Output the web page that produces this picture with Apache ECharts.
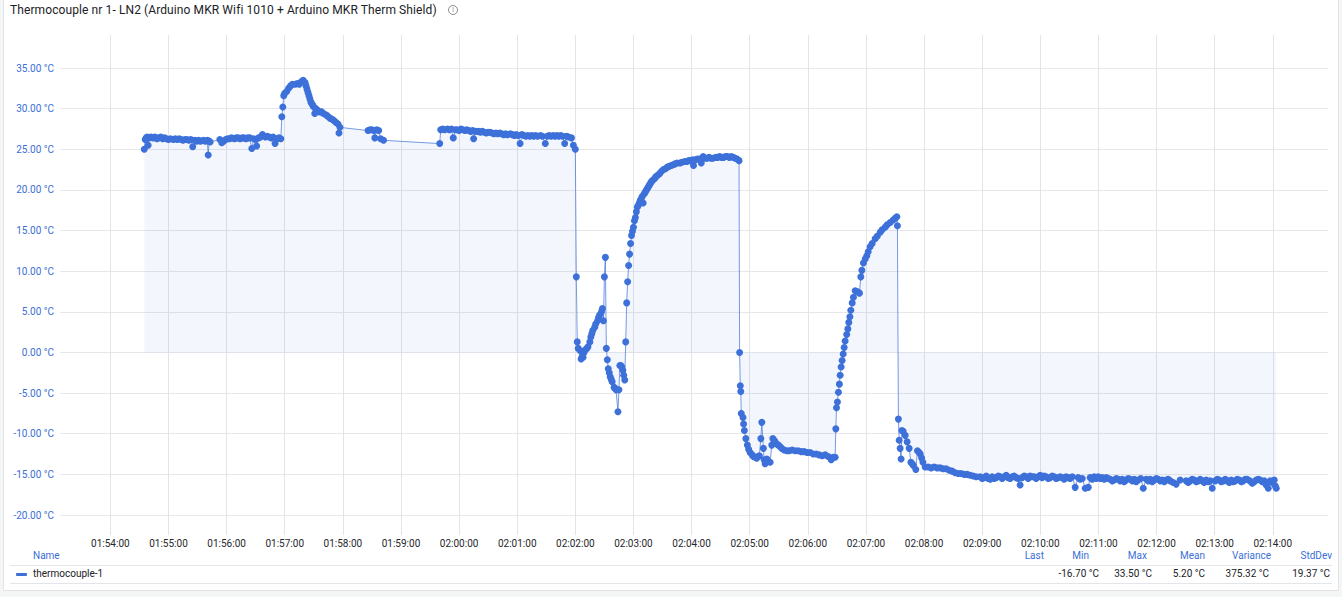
<!DOCTYPE html>
<html>
<head>
<meta charset="utf-8">
<script src="https://cdn.jsdelivr.net/npm/echarts@6/dist/echarts.min.js"></script>
<style>
  html, body { margin: 0; padding: 0; width: 1342px; height: 597px; overflow: hidden; background: #f4f5f5; font-family: Roboto, "Noto Sans", sans-serif; }
  #panel { position: absolute; left: 3px; top: -2px; width: 1334px; height: 591px; background: #fff; border: 1px solid #e2e3e5; }
  #title { position: absolute; left: 10px; top: 3px; font-size: 12px; letter-spacing: 0.1px; color: #202226; white-space: nowrap; }
  #info { position: absolute; left: 448px; top: 5px; width: 8px; height: 8px; border: 1px solid #8a8d93; border-radius: 50%; font-size: 7px; line-height: 8px; text-align: center; color: #8a8d93; }
  #chart { position: absolute; left: 0; top: 0; width: 1342px; height: 597px; }
  .lg { position: absolute; font-size: 10px; white-space: nowrap; line-height: 12px; }
  .hd { color: #3a6fd6; }
  .val { color: #202226; }
  .rule { position: absolute; left: 10px; width: 1322px; height: 1px; background: #e4e5e8; }
  #swatch { position: absolute; left: 16px; top: 573px; width: 11px; height: 3px; border-radius: 1px; background: #3d71d9; }
</style>
</head>
<body>
<div id="panel"></div>
<div id="title">Thermocouple nr 1- LN2 (Arduino MKR Wifi 1010 + Arduino MKR Therm Shield)</div>
<div id="info">i</div>
<div id="chart"></div>
<div class="lg hd" style="left:33px;top:550px;">Name</div>
<div class="lg hd" style="right:298px;top:550px;">Last</div>
<div class="lg hd" style="right:253px;top:550px;">Min</div>
<div class="lg hd" style="right:195px;top:550px;">Max</div>
<div class="lg hd" style="right:137px;top:550px;">Mean</div>
<div class="lg hd" style="right:71px;top:550px;">Variance</div>
<div class="lg hd" style="right:10px;top:550px;">StdDev</div>
<div class="rule" style="top:565px;"></div>
<div id="swatch"></div>
<div class="lg val" style="left:33px;top:568px;">thermocouple-1</div>
<div class="lg val" id="sMin" style="right:243px;top:568px;"></div>
<div class="lg val" id="sMax" style="right:190px;top:568px;"></div>
<div class="lg val" id="sMean" style="right:137px;top:568px;"></div>
<div class="lg val" id="sVar" style="right:73px;top:568px;"></div>
<div class="lg val" id="sStd" style="right:12px;top:568px;"></div>
<div class="rule" style="top:583px;"></div>
<script>
// ---- data (seconds after 01:54:00, temperature in °C) ----
const startClock = [1, 54, 0];
const secs = [
35,36,37,38,39,40,42,44,46,48,50,52,54,56,58,60,62,65,67,69,71,73,75,77,79,81,83,85,87,89,91,93,96,98,100,101,102,103,
113,115,117,119,121,123,125,128,130,132,134,136,138,140,142,144,146,148,150,151,153,155,157,160,162,164,166,168,170,172,174,176,
177,178,179,180,182,184,186,188,191,193,195,197,199,201,202,203,204,205,206,207,208,209,210,211,212,214,216,218,220,223,225,227,229,231,233,235,236,237,
266,268,270,272,273,275,277,279,282,
340,341,343,345,348,350,352,354,356,358,360,362,364,366,368,370,372,374,375,377,380,382,384,386,388,390,392,394,396,398,400,402,404,406,408,410,413,415,417,419,421,423,425,427,429,431,433,435,437,439,441,444,446,449,451,453,455,457,459,461,463,465,467,469,471,473,476,478,480,
481,482,483,485,486,487,488,489,490,492,493,495,496,497,498,500,501,503,504,505,507,508,509,510,511,512,513,514,515,516,517,518,520,521,522,524,525,526,527,528,529,530,531,532,533,534,535,536,537,538,539,540,541,542,543,544,545,546,547,548,549,550,551,552,553,554,555,556,557,558,559,560,562,563,565,567,569,571,573,575,577,579,581,583,585,588,590,593,595,597,599,601,602,604,606,608,610,612,614,616,618,620,622,625,627,629,631,633,635,637,639,641,643,645,647,649,
649.6,650.3,650.8,651.3,653.1,653.7,654.5,656.0,657.6,658.9,660.4,662.5,663.8,665.6,667.3,668.7,670.0,671.5,672.5,674.1,674.9,675.9,677.7,679.0,681.1,682.8,683.9,685.2,686.2,688.3,689.6,691.4,693.1,695.5,698.3,700.7,703.8,706.9,710.0,713.1,716.2,719.3,722.4,725.5,728.6,731.7,734.8,737.9,741.0,744.1,746.2,748.2,
748.9,749.6,750.6,751.6,752.6,753.4,754.4,755.4,756.5,757.5,758.5,760.1,761.3,762.3,763.4,764.4,765.8,767.1,768.9,770.6,772.0,773.3,774.7,775.8,777.4,779.2,780.9,782.3,784.3,786.4,789.5,791.6,794.7,796.7,799.8,801.9,805.0,808.1,810.2,811.9,812.5,
813.5,814.3,815.3,816.3,817.1,818.4,820.5,822.5,824.6,826.4,827.7,829.0,831.5,833.2,834.9,836.0,837.5,838.8,841.1,844.2,847.3,850.4,853.5,856.6,859.7,862.8,865.9,869.0,872.1,875.2,878.3,881.4,884.5,887.6,890.7,893.8,
897.9,900.0,902.1,904.2,906.2,908.3,910.3,912.4,914.5,916.6,918.6,920.7,922.7,924.8,926.8,928.9,931.0,933.0,935.1,937.2,939.2,941.3,943.4,945.4,947.5,949.5,951.6,953.7,955.7,957.8,959.9,961.9,964.0,966.1,968.2,970.2,972.3,974.3,976.4,978.4,980.5,982.6,984.6,986.7,988.8,990.8,993.0,996.0,999.1,1001.2,1003.3,1006.4,1009.5,
1011.5,1013.6,1015.7,1017.8,1019.8,1021.9,1023.9,1026.0,1028.1,1030.1,1032.2,1034.3,1036.3,1038.4,1040.4,1042.5,1044.6,1046.6,1048.7,1050.8,1052.8,1054.9,1057.0,1059.0,1061.1,1063.7,1066.3,1069.4,1071.5,1073.5,1075.6,1077.6,1079.7,1081.7,1083.8,1085.9,1088.0,1090.0,1092.0,1094.1,1097.2,1100.3,1104.4,
1110.6,1112.7,1114.8,1116.8,1118.9,1121.0,1123.0,1125.1,1127.2,1129.2,1131.3,1133.4,1135.4,1137.5,1140.6,1142.7,1144.7,1146.8,1148.9,1151.0,1153.0,1155.1,1157.1,1159.2,1161.2,1163.3,1165.4,1167.5,1169.5,1171.6,1173.6,1176.2,1178.8,1180.9,1182.9,1185.0,1187.0,1189.1,1191.2,1193.2,1195.3,1197.4,1199.4,1201.5,1202.5,1203.6
];
const temps = [
25.0,26.2,26.4,26.5,25.5,26.4,26.5,26.4,26.5,26.3,26.4,26.5,26.3,26.4,26.3,26.2,26.3,26.2,26.3,26.2,26.3,26.2,26.1,26.2,26.2,26.1,26.2,25.3,26.1,26.0,26.1,26.0,26.1,26.0,26.1,24.3,26.0,25.9,
26.2,25.8,26.0,26.2,26.3,26.3,26.4,26.3,26.4,26.4,26.3,26.4,26.4,26.3,26.4,26.4,25.1,26.3,26.2,25.4,26.4,26.5,26.8,26.5,26.6,26.5,26.4,26.5,25.7,26.3,26.4,26.3,
29.0,30.2,31.6,31.9,32.1,32.5,32.8,33.0,33.0,33.1,33.0,33.3,33.5,33.2,32.8,32.4,32.0,31.6,31.2,30.8,30.6,30.4,30.2,29.4,30.0,29.8,29.6,29.6,29.4,29.2,29.0,28.8,28.7,28.5,28.3,28.1,27.0,27.7,
27.3,27.4,27.4,27.3,26.4,27.4,27.3,26.3,26.1,
25.7,27.4,27.5,27.4,27.5,27.4,27.5,26.4,27.4,27.4,27.3,27.5,27.4,27.3,27.4,27.3,27.2,27.3,26.3,27.2,27.2,27.1,27.2,27.1,27.0,27.1,27.1,27.0,26.9,27.0,26.9,27.0,26.9,26.8,26.9,26.8,26.9,26.8,26.7,26.8,26.7,25.7,26.8,26.7,26.6,26.7,26.6,26.7,26.6,26.7,26.6,26.7,26.6,25.7,26.6,26.7,26.6,26.7,26.6,26.7,26.6,26.7,26.6,25.7,26.6,26.5,26.4,25.5,25.0,
9.3,1.3,0.5,0.2,-0.8,-0.5,-0.6,0.0,0.3,0.5,0.7,1.3,1.9,2.3,2.7,3.1,3.5,3.9,4.3,4.6,5.0,5.4,3.9,9.3,11.7,0.5,-0.9,-2.0,-2.5,-3.0,-3.3,-3.6,-4.3,-4.4,-4.6,-7.3,-4.6,-1.6,-1.6,-1.8,-2.2,-2.8,-3.4,1.3,6.1,8.7,10.7,12.1,13.4,14.4,14.9,15.4,16.2,16.6,17.3,17.9,18.1,18.4,18.7,18.9,19.2,18.4,19.5,19.7,19.9,20.1,20.3,20.5,20.7,20.9,21.1,21.2,21.4,21.6,21.8,22.0,22.3,22.5,22.6,22.8,22.9,23.0,23.1,23.2,23.3,23.3,23.4,23.5,23.5,23.6,23.6,23.7,23.0,23.7,23.8,23.8,23.3,24.1,23.9,23.9,24.0,23.9,23.9,24.0,24.0,24.1,24.0,24.0,24.1,24.1,24.0,24.1,24.0,23.9,23.8,23.6,
0.0,-4.1,-4.8,-7.5,-8.0,-8.8,-9.6,-10.6,-11.4,-11.9,-12.3,-12.6,-12.8,-12.9,-13.0,-12.8,-12.7,-10.6,-8.6,-11.8,-13.2,-13.7,-13.1,-13.4,-13.5,-11.4,-10.6,-10.8,-11.0,-11.3,-11.4,-11.6,-11.8,-12.0,-12.1,-12.1,-12.0,-12.1,-12.1,-12.2,-12.2,-12.3,-12.3,-12.5,-12.5,-12.6,-12.7,-12.6,-12.8,-13.2,-12.9,-12.9,
-9.4,-6.8,-6.1,-4.9,-3.9,-2.8,-1.8,-1.0,-0.2,0.6,1.4,2.2,2.9,3.7,4.4,5.2,6.1,6.8,7.6,7.5,7.4,7.3,9.3,10.1,11.0,11.5,11.9,12.4,13.0,13.4,14.0,14.3,14.8,15.1,15.4,15.7,16.0,16.3,16.5,16.7,15.6,
-8.2,-10.8,-11.8,-13.1,-9.6,-9.7,-10.2,-11.0,-11.8,-13.5,-13.7,-13.9,-14.4,-12.1,-12.3,-12.5,-13.0,-13.5,-14.1,-14.1,-14.2,-14.1,-14.2,-14.2,-14.3,-14.3,-14.5,-14.6,-14.8,-14.9,-14.9,-15.0,-15.0,-15.1,-15.2,-15.3,
-15.3,-15.5,-15.4,-15.2,-15.5,-15.6,-15.3,-15.5,-15.4,-15.2,-15.3,-15.5,-15.3,-15.1,-15.4,-15.5,-15.3,-15.2,-15.4,-15.5,-16.3,-15.4,-15.2,-15.3,-15.5,-15.2,-15.3,-15.3,-15.5,-15.3,-15.1,-15.4,-15.2,-15.3,-15.5,-15.4,-15.2,-15.3,-15.5,-15.4,-15.3,-15.4,-15.6,-15.3,-15.4,-15.5,-15.3,-16.6,-15.4,-15.6,-15.5,-16.7,-16.6,
-15.4,-15.6,-15.3,-15.5,-15.3,-15.5,-15.4,-15.6,-15.4,-15.5,-15.6,-15.8,-15.7,-15.5,-15.6,-15.8,-15.6,-15.9,-15.7,-15.5,-15.6,-15.8,-15.6,-15.9,-15.7,-15.5,-16.7,-15.6,-15.8,-15.6,-15.9,-15.7,-15.5,-15.6,-15.8,-15.7,-15.9,-15.7,-15.6,-15.8,-16.0,-16.2,-15.7,
-15.8,-16.0,-15.8,-15.6,-15.7,-15.9,-15.8,-15.6,-15.8,-16.0,-15.7,-15.9,-15.8,-16.7,-15.8,-15.6,-15.7,-15.9,-15.8,-15.6,-15.8,-16.0,-15.7,-15.9,-15.8,-15.6,-15.7,-15.9,-15.8,-15.6,-15.6,-15.8,-16.1,-15.9,-15.7,-15.6,-15.7,-15.9,-15.8,-16.3,-16.7,-15.8,-16.0,-15.7,-16.4,-16.7
];
const xTickSecs = [0,60,120,180,240,300,360,420,480,540,600,660,720,780,840,900,960,1020,1080,1140,1200];
const yTicks = [-20,-15,-10,-5,0,5,10,15,20,25,30,35];
const stats = { min: '-16.70 °C', max: '33.50 °C', mean: '5.20 °C', variance: '375.32 °C', stddev: '19.37 °C' };

document.getElementById('sMin').textContent = stats.min;
document.getElementById('sMax').textContent = stats.max;
document.getElementById('sMean').textContent = stats.mean;
document.getElementById('sVar').textContent = stats.variance;
document.getElementById('sStd').textContent = stats.stddev;

function clock(s) {
  let t = startClock[0] * 3600 + startClock[1] * 60 + startClock[2] + Math.round(s);
  const h = Math.floor(t / 3600), m = Math.floor((t % 3600) / 60), ss = t % 60;
  const p = n => String(n).padStart(2, '0');
  return p(h) + ':' + p(m) + ':' + p(ss);
}

const X_MIN = -52, X_MAX = 1257;
const blue = '#3d71d9';
const chart = echarts.init(document.getElementById('chart'), null, { renderer: 'svg' });
chart.setOption({
  animation: false,
  textStyle: { fontFamily: 'Roboto, "Noto Sans", sans-serif' },
  grid: [
    { left: 60, right: 14, top: 68, bottom: 82 },
    { left: 60, right: 14, top: 35, bottom: 62 }
  ],
  xAxis: [
    { type: 'value', gridIndex: 0, min: X_MIN, max: X_MAX, show: false },
    { type: 'value', gridIndex: 1, min: X_MIN, max: X_MAX,
      axisLine: { show: false },
      axisTick: { show: false, customValues: xTickSecs },
      axisLabel: { customValues: xTickSecs, formatter: v => clock(v), color: '#26282c', fontSize: 10, margin: 3 },
      splitLine: { show: true, lineStyle: { color: '#e3e4e8', width: 1 } } }
  ],
  yAxis: [
    { type: 'value', gridIndex: 0, min: yTicks[0], max: yTicks[yTicks.length - 1], interval: 5,
      axisLine: { show: false }, axisTick: { show: false },
      axisLabel: { color: '#3a6fd6', fontSize: 10, margin: 6, formatter: v => v.toFixed(2) + ' °C' },
      splitLine: { lineStyle: { color: '#e6e7ea', width: 1 } } },
    { type: 'value', gridIndex: 1, min: 0, max: 1, show: false }
  ],
  series: [{
    type: 'line',
    name: 'thermocouple-1',
    xAxisIndex: 0, yAxisIndex: 0,
    data: secs.map((s, i) => [s, temps[i]]),
    symbol: 'circle', symbolSize: 7, showAllSymbol: true,
    itemStyle: { color: blue },
    lineStyle: { color: blue, width: 1, opacity: 0.7 },
    areaStyle: { color: 'rgba(61,113,217,0.09)', origin: 0 },
    clip: false
  }]
});
</script>
</body>
</html>
